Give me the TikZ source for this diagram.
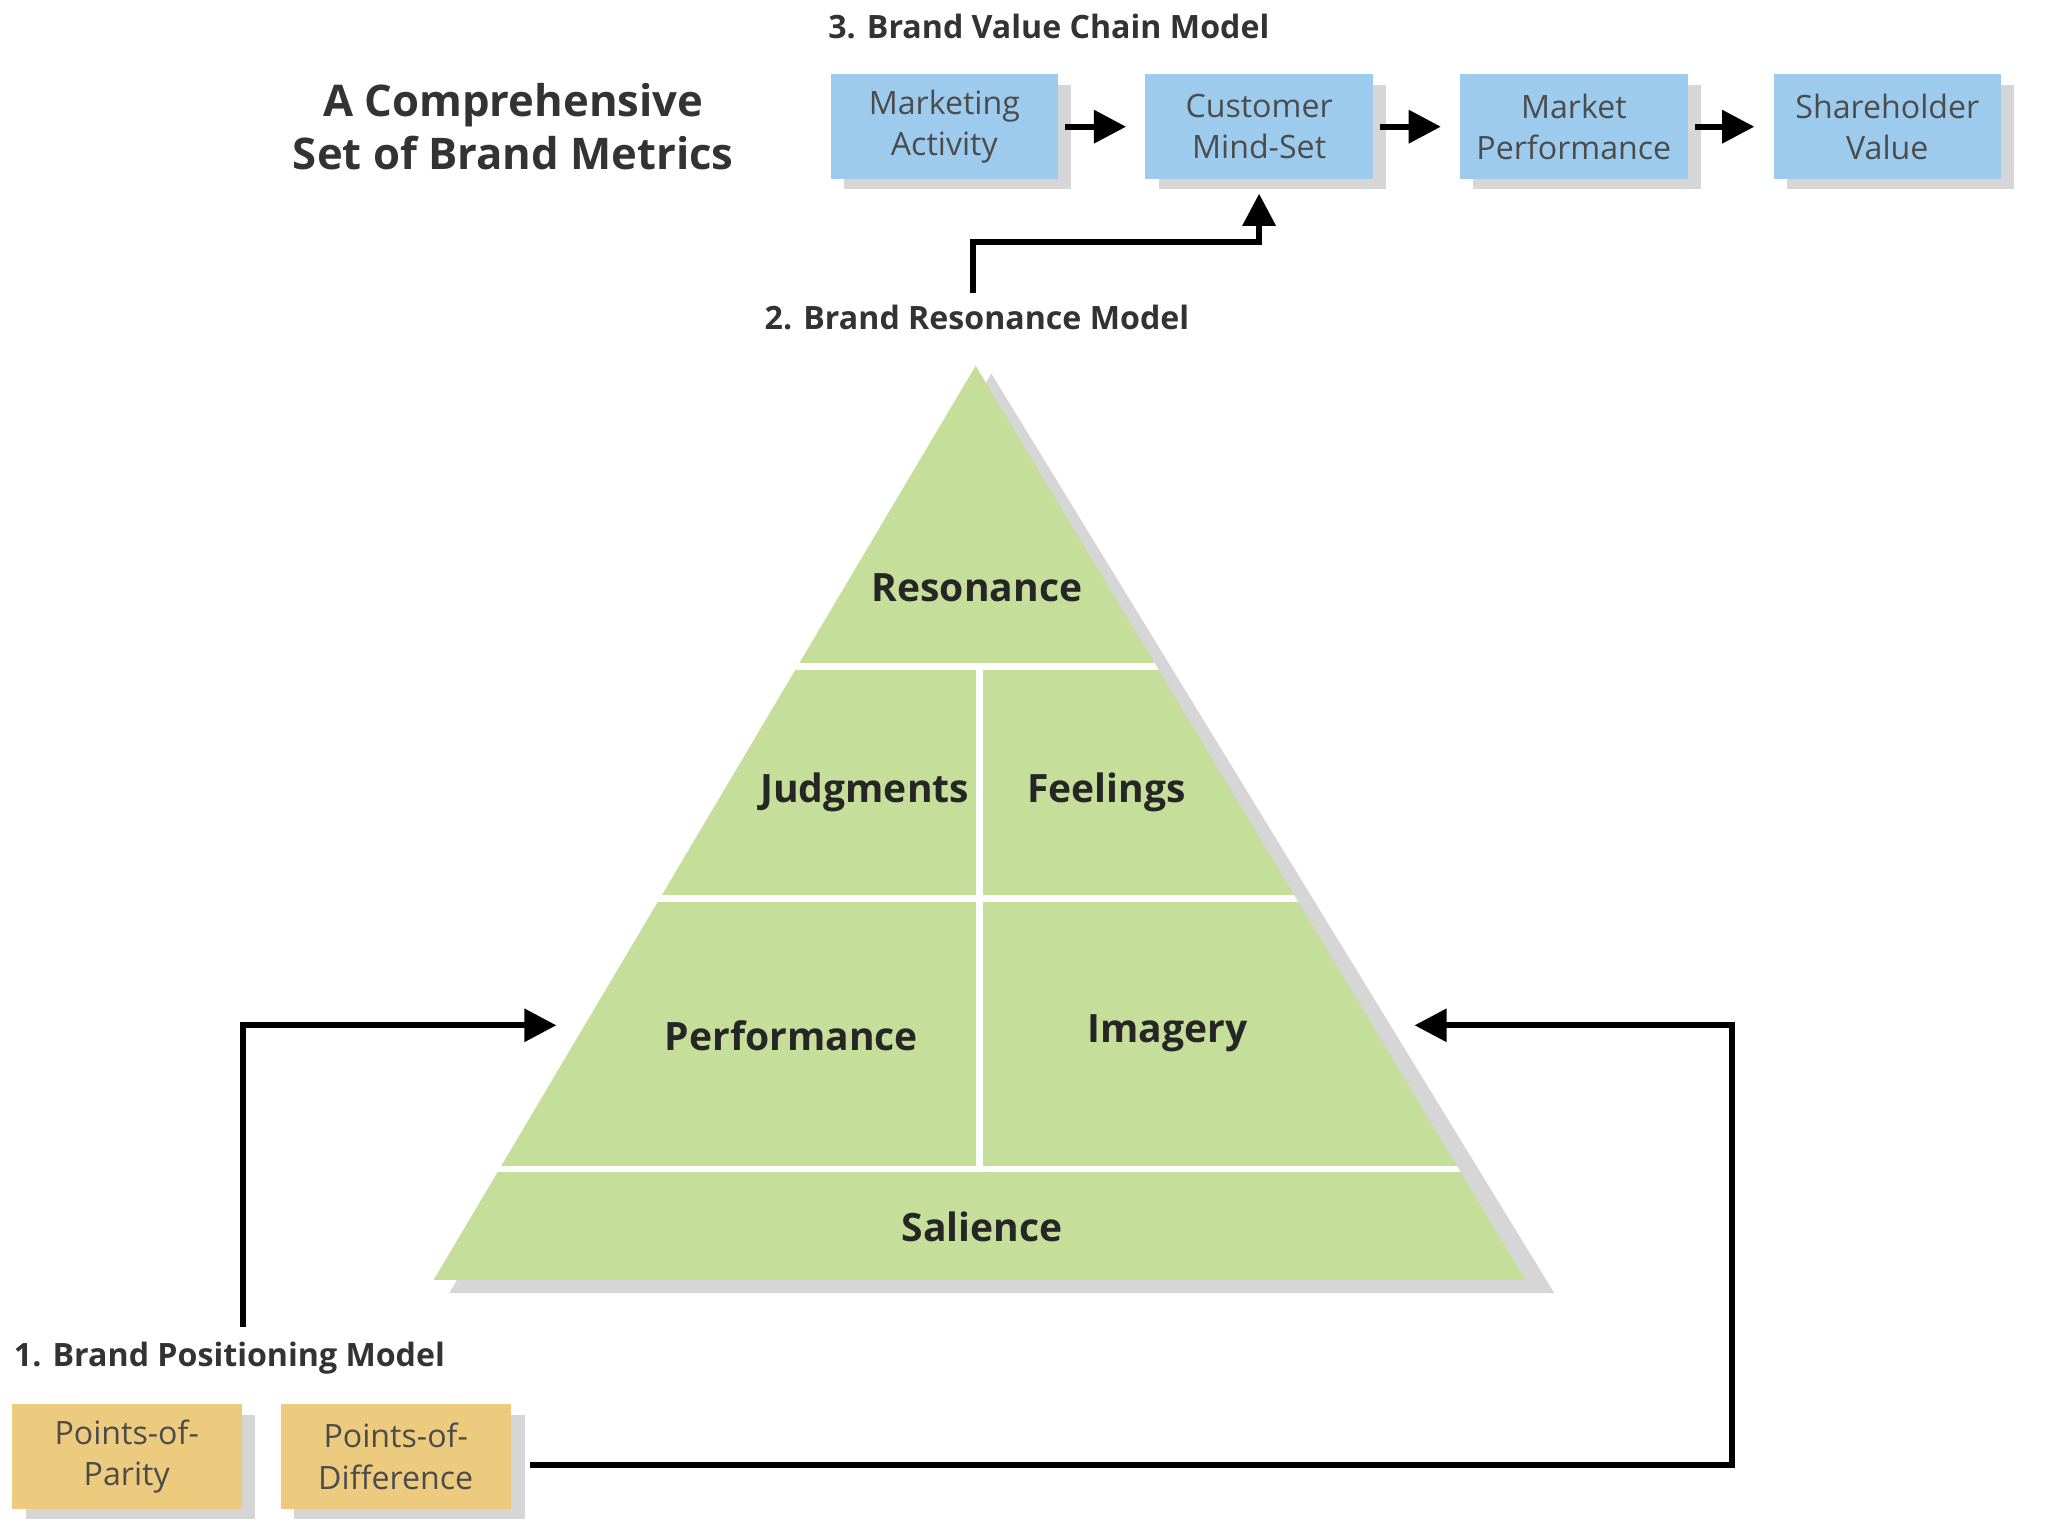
\documentclass[tikz,border=0pt]{standalone}
\usepackage{fontspec}
\setmainfont{Open Sans}
\usetikzlibrary{arrows.meta}
\definecolor{bluebox}{HTML}{9DCBEE}
\definecolor{tanbox}{HTML}{EDCB7E}
\definecolor{pgreen}{HTML}{C5DE9A}
\definecolor{shad}{HTML}{D6D6D6}
\tikzset{
 x=0.01cm,y=-0.01cm,
 vbox/.style={fill=bluebox,minimum width=1.74cm,minimum height=0.8cm,align=center,font=\fontsize{7}{9}\selectfont\color{black!70},inner sep=0pt},
 pbox/.style={fill=tanbox,minimum width=1.76cm,minimum height=0.8cm,align=center,font=\fontsize{7}{9}\selectfont\color{black!70},inner sep=0pt},
 ttl/.style={font=\bfseries\fontsize{7}{9}\selectfont\color{black!80}},
 lvl/.style={font=\bfseries\fontsize{8.5}{10}\selectfont\color{black!85}},
 arr/.style={line width=1.3pt,-{Triangle[length=7pt,width=7pt]}},
}
\begin{document}
\begin{tikzpicture}
\useasboundingbox (0,0) rectangle (1568,1176);
% title
\node[align=center,font=\bfseries\fontsize{9.5}{11.5}\selectfont\color{black!80}] (title) at (393,97) {A Comprehensive\\Set of Brand Metrics};
\node[ttl] (l3) at (803,20) {3. Brand Value Chain Model};
\node[ttl] (l2) at (748,243) {2. Brand Resonance Model};
\node[ttl,anchor=west,inner sep=0pt] (l1) at (10,1040) {1. Brand Positioning Model};
% value chain boxes with shadows
\foreach \x in {723,964,1205,1445}{\fill[shad] (\x-87+10,65) rectangle (\x+87+10,145);}
\node[vbox] (ma) at (723,97) {Marketing\\Activity};
\node[vbox] (cm) at (964,97) {Customer\\Mind-Set};
\node[vbox] (mp) at (1205,97) {Market\\Performance};
\node[vbox] (sv) at (1445,97) {Shareholder\\Value};
\draw[arr] (ma.east)++(5,0) -- ([xshift=-4]cm.west);
\draw[arr] (cm.east)++(5,0) -- ([xshift=-4]mp.west);
\draw[arr] (mp.east)++(5,0) -- ([xshift=-4]sv.west);
% pyramid
\fill[shad] (759,286) -- (1190,990) -- (344,990) -- cycle;
\fill[pgreen] (747,280) -- (1168,980) -- (332,980) -- cycle;
\begin{scope}
\clip (747,280) -- (1168,980) -- (332,980) -- cycle;
\draw[white,line width=1.5pt] (300,510) -- (1200,510) (300,688) -- (1200,688) (300,895) -- (1200,895) (750,510) -- (750,895);
\end{scope}
\coordinate (apex) at (747,280);
\node[lvl] (res) at (748,450) {Resonance};
\node[lvl] (jud) at (662,607) {Judgments};
\node[lvl] (fee) at (847,607) {Feelings};
\node[lvl] (per) at (606,793) {Performance};
\node[lvl] (ima) at (894,791) {Imagery};
\node[lvl] (sal) at (752,939) {Salience};
% arrow to customer mind-set
\coordinate (a2) at (745,224);
\draw[arr] (a2) |- (850,185) -| ([yshift=-3]cm.south);
% positioning boxes
\fill[shad] (20,1083) rectangle (195,1163);
\fill[shad] (225,1083) rectangle (402,1163);
\node[pbox] (pop) at (97,1115) {Points-of-\\Parity};
\node[pbox] (pod) at (303,1115) {Points-of-\\Difference};
\coordinate (lt) at (186,1016);
\coordinate (ltend) at (426,785);
\draw[arr] (lt) |- (ltend);
\coordinate (rtend) at (1083,785);
\draw[arr] ([xshift=4]pod.east |- 0,1122) -- (1326,1122) |- (rtend);
\end{tikzpicture}
\end{document}
